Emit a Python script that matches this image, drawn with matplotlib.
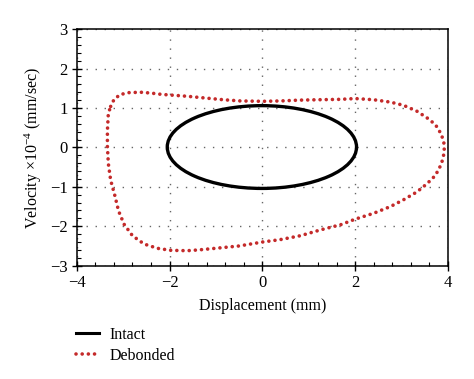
import matplotlib
matplotlib.use("Agg")
import matplotlib.pyplot as plt
from matplotlib.patches import Ellipse
from matplotlib.lines import Line2D
from matplotlib.ticker import MultipleLocator

plt.rcParams['font.family'] = ['Liberation Serif', 'DejaVu Serif']
plt.rcParams['mathtext.fontset'] = 'custom'
plt.rcParams['mathtext.rm'] = 'Liberation Serif'
plt.rcParams['mathtext.it'] = 'Liberation Serif:italic'

# intact response: closed ellipse (centre, full width, full height) in mm / mm/sec
intact_center = (-0.01, 0.01)
intact_width = 4.08
intact_height = 2.10

# debonded response: loop, clockwise from top-left
debonded_disp = [-3.27, -3.20, -3.07, -2.88, -2.62, -2.41, -2.20, -2.00, -1.75, -1.55,
                 -1.20, -0.84, -0.48, 0.00, 0.40, 0.80, 1.20, 1.68, 2.00, 2.40,
                 2.76, 3.04, 3.33, 3.55, 3.73, 3.86, 3.92, 3.92, 3.86, 3.73,
                 3.55, 3.33, 3.04, 2.76, 2.40, 2.00, 1.69, 1.26, 0.82, 0.38,
                 0.00, -0.50, -0.93, -1.37, -1.62, -1.98, -2.26, -2.55, -2.80, -2.98,
                 -3.10, -3.18, -3.27, -3.32, -3.34, -3.34, -3.32, -3.27]
debonded_vel = [1.04, 1.21, 1.34, 1.39, 1.40, 1.38, 1.35, 1.33, 1.31, 1.29,
                1.25, 1.21, 1.18, 1.17, 1.18, 1.20, 1.21, 1.22, 1.24, 1.21,
                1.15, 1.07, 0.92, 0.75, 0.58, 0.33, 0.08, -0.13, -0.42, -0.71,
                -0.92, -1.13, -1.33, -1.50, -1.67, -1.82, -1.96, -2.09, -2.24, -2.34,
                -2.40, -2.50, -2.55, -2.60, -2.62, -2.61, -2.56, -2.45, -2.24, -1.95,
                -1.61, -1.22, -0.83, -0.41, 0.02, 0.43, 0.86, 1.04]

red = '#c42a2a'
dots = (0, (0.01, 1.7))

fig = plt.figure(figsize=(4.74, 3.79), dpi=100)
ax = fig.add_axes([0.162, 0.299, 0.783, 0.624])

ax.add_patch(Ellipse(intact_center, intact_width, intact_height,
                     fill=False, edgecolor='black', lw=2.4, zorder=3))
ax.plot(debonded_disp, debonded_vel, color=red, lw=2.6, linestyle=dots,
        dash_capstyle='round', zorder=4)

ax.set_xlim(-4, 4)
ax.set_ylim(-3, 3)
ax.xaxis.set_major_locator(MultipleLocator(2))
ax.xaxis.set_minor_locator(MultipleLocator(0.4))
ax.yaxis.set_major_locator(MultipleLocator(1))
ax.yaxis.set_minor_locator(MultipleLocator(0.2))
ax.tick_params(which='major', direction='inout', length=7, width=1.0,
               labelsize=12, pad=3)
ax.tick_params(which='minor', direction='in', length=3, width=0.8)
ax.grid(True, which='major', color='#666666', lw=1.0, linestyle=(0, (1, 5.5)))
for s in ax.spines.values():
    s.set_linewidth(1.1)

ax.set_xlabel('Displacement (mm)', fontsize=11.5, labelpad=5)
ax.set_ylabel(r'Velocity $\times\mathregular{10^{-4}}$ (mm/sec)', fontsize=11.5, labelpad=4)

handles = [Line2D([], [], color='black', lw=2.2),
           Line2D([], [], color=red, lw=2.6, linestyle=dots, dash_capstyle='round')]
fig.legend(handles, ['Intact', 'Debonded'], loc='upper left',
           bbox_to_anchor=(0.160, 0.137), frameon=False, fontsize=11.5,
           borderpad=0, borderaxespad=0, handlelength=1.45, handletextpad=0.65,
           labelspacing=0.3)

fig.savefig('out.png', dpi=100)
